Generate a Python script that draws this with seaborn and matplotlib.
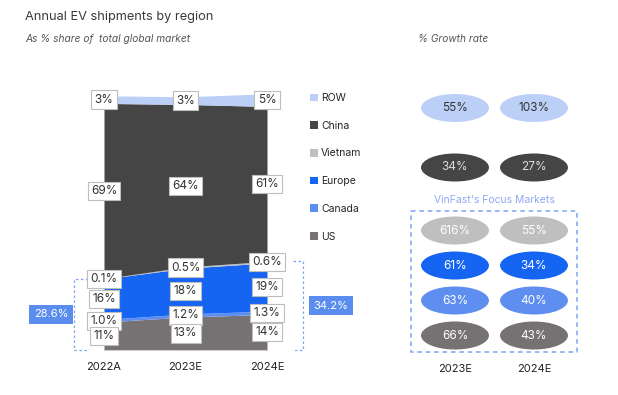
import matplotlib.pyplot as plt
import seaborn as sns
from matplotlib.patches import Ellipse, Patch, Rectangle

years = ["2022A", "2023E", "2024E"]
regions = ["US", "Canada", "Europe", "Vietnam", "China", "ROW"]
us = [11, 13, 14]
canada = [1.0, 1.2, 1.3]
europe = [16, 18, 19]
vietnam = [0.1, 0.5, 0.6]
china = [69, 64, 61]
row = [3, 3, 5]
focus_share = ["28.6%", "34.2%"]

growth_years = ["2023E", "2024E"]
growth_row = [55, 103]
growth_china = [34, 27]
growth_vietnam = [616, 55]
growth_europe = [61, 34]
growth_canada = [63, 40]
growth_us = [66, 43]

colors = {"US": "#767173", "Canada": "#5e8ef0", "Europe": "#1565f2",
          "Vietnam": "#bfbfbf", "China": "#454545", "ROW": "#bcd0f7"}
text_colors = {"US": "white", "Canada": "white", "Europe": "white",
               "Vietnam": "white", "China": "#dddddd", "ROW": "#333333"}

sns.set_style("white")
plt.rcParams["font.family"] = ["Inter", "DejaVu Sans"]

W, H = 618, 395
fig = plt.figure(figsize=(W / 100, H / 100), dpi=100)


def fig_box(x0, y0, x1, y1):
    return [x0 / W, 1 - y1 / H, (x1 - x0) / W, (y1 - y0) / H]


fig.text(25 / W, 1 - 17 / H, "Annual EV shipments by region", fontsize=9.2,
         color="#3a3a3a", va="center")
fig.text(25 / W, 1 - 39 / H, "As % share of  total global market", fontsize=7.3,
         color="#555555", style="italic", va="center")
fig.text(418 / W, 1 - 39 / H, "% Growth rate", fontsize=7.3,
         color="#555555", style="italic", va="center")

# stacked area of shares
ax = fig.add_axes(fig_box(104, 93.5, 267, 350))
series = [us, canada, europe, vietnam, china, row]
x = list(range(len(years)))
ax.stackplot(x, *series, colors=[colors[r] for r in regions], linewidth=0)
ax.set_xlim(0, 2)
ax.set_ylim(0, 101)
ax.set_xticks(x)
ax.set_xticklabels(years, fontsize=8, color="#222222")
ax.set_yticks([])
ax.tick_params(axis="x", length=3, color="#cccccc", pad=6)
sns.despine(ax=ax, left=True)
ax.spines["bottom"].set_color("#cccccc")

box = dict(boxstyle="square,pad=0.27", fc="white", ec="#bdbdbd", lw=0.8)
for i in x:
    base = 0
    for k, (r, s) in enumerate(zip(regions, series)):
        v = s[i]
        label = f"{v:.1f}%" if v < 2 else f"{v:.0f}%"
        ax.text(i, base + v / 2, label, ha="center", va="center", fontsize=8.5,
                color="#333333", bbox=box, clip_on=False, zorder=10 - k)
        base += v

# focus market brackets
bcol = "#7ea3f2"
focus_top = [sum(s[i] for s in series[:4]) for i in x]
for i, xv, tip, lx in [(0, -0.37, -0.2, -0.65), (2, 2.44, 2.32, 2.785)]:
    top = focus_top[i]
    ax.plot([tip, xv, xv, tip], [top, top, 0, 0], ls=(0, (2, 2)), lw=0.9,
            color=bcol, clip_on=False)
    ax.text(lx, top / 2, focus_share[0 if i == 0 else 1], ha="center", va="center",
            fontsize=8, color="white", clip_on=False,
            bbox=dict(boxstyle="square,pad=0.42", fc="#5b8def", ec="none"))

handles = [Patch(fc=colors[r], ec="none", label=r) for r in regions[::-1]]
fig.legend(handles=handles, loc="upper left", bbox_to_anchor=(310 / W, 1 - 93 / H),
           frameon=False, fontsize=7.5, handlelength=0.75, handleheight=0.75,
           handletextpad=0.3, labelspacing=1.7, borderaxespad=0, borderpad=0)

# growth rate ellipses
ax2 = fig.add_axes(fig_box(400, 85, 590, 385))
ax2.set_xlim(-0.696, 1.709)
ax2.set_ylim(7.914, -0.657)
ax2.axis("off")
rows_y = [6.5, 5.5, 4.5, 3.5, 1.7, 0]
growth = [growth_us, growth_canada, growth_europe, growth_vietnam, growth_china, growth_row]
for r, yv, g in zip(regions, rows_y, growth):
    for j, val in enumerate(g):
        ax2.add_patch(Ellipse((j, yv), 0.86, 0.8, fc=colors[r], ec="none"))
        ax2.text(j, yv, f"{val}%", ha="center", va="center", fontsize=8.5,
                 color=text_colors[r])
ax2.add_patch(Rectangle((-0.557, 2.94), 2.1, 4.03, fill=False, ec=bcol,
                        ls=(0, (3, 2.5)), lw=1.1))
ax2.text(0.5, 2.63, "VinFast's Focus Markets", ha="center", va="center",
         fontsize=7.5, color="#8ea8f5")
for j, yr in enumerate(growth_years):
    ax2.text(j, 7.46, yr, ha="center", va="center", fontsize=8, color="#222222")

fig.savefig("out.png", dpi=100)
